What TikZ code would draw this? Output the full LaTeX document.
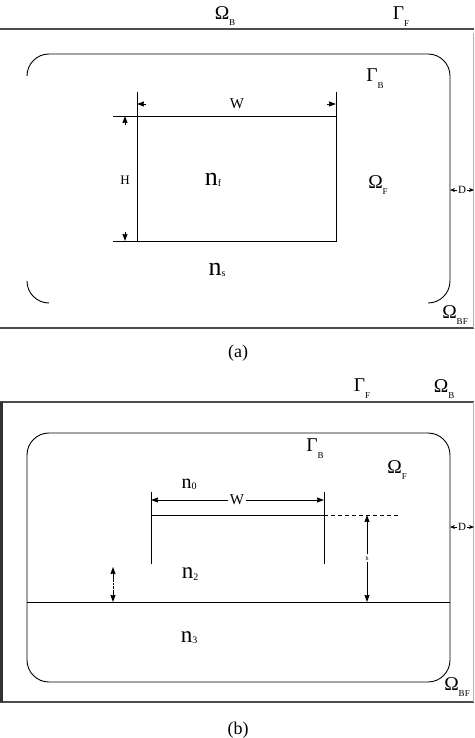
\documentclass[tikz,border=0pt]{standalone}
\usepackage{fontspec}
\setmainfont{Liberation Serif}
\usepackage{tikz}
\usetikzlibrary{arrows.meta}
\newcommand{\lsub}[1]{\raisebox{-0.35em}{\fontsize{9}{9}\selectfont #1}}
\newcommand{\nsub}[1]{\raisebox{-0.05em}{\fontsize{10}{10}\selectfont #1}}

\begin{document}
\begin{tikzpicture}[x=1pt,y=-1pt,>={Stealth[length=7pt,width=5pt,inset=0.5pt]},line width=0.9pt,inner sep=0pt,
    greek/.style={font=\fontsize{19.5}{19.5}\selectfont},
    index/.style={font=\fontsize{26}{26}\selectfont},
    dimlab/.style={font=\fontsize{15}{15}\selectfont,inner sep=1pt},
    tinylab/.style={font=\fontsize{6}{6}\selectfont,inner sep=1pt},
    caption/.style={font=\fontsize{18}{18}\selectfont},
    panel/.style={line width=1.6pt,black!70}]
    \useasboundingbox (0,0) rectangle (474,738);

    % (a) -- fiber in the half space
    \coordinate (at l) at (0,29);   \coordinate (at r) at (474,29);
    \coordinate (ab l) at (0,328);  \coordinate (ab r) at (474,328);
    \draw[panel] (at l) -- (at r);
    \draw[panel] (ab l) -- (ab r);
    \draw[black!30,thin] (473.5,33) -- (473.5,328);
    \draw[rounded corners=22] (27,76) -- (27,54) -- (450,54) -- (450,303) -- (428,303);
    \draw[rounded corners=22] (27,281) -- (27,303) -- (49,303);

    \coordinate (f1) at (137,116); \coordinate (f2) at (336,116);
    \coordinate (f3) at (336,241); \coordinate (f4) at (137,241);
    \draw (113,116) -- (f2) -- (f3) -- (113,241);
    \draw (137,92) -- (f4);
    \draw (f2) -- (336,92);

    \node[dimlab] (Wa) at (237,104) {W};
    \node[dimlab,font=\fontsize{13}{13}\selectfont] (Ha) at (125,180) {H};
    \node[tinylab,font=\fontsize{11}{11}\selectfont] (Da) at (462,190) {D};
    \coordinate (wa1) at (146,104); \coordinate (wa2) at (327,104);
    \coordinate (ha1) at (125,125); \coordinate (ha2) at (125,232);
    \draw[->] (wa1) -- (137,104);
    \draw[->] (wa2) -- (336,104);
    \draw[->] (ha1) -- (125,116);
    \draw[->] (ha2) -- (125,241);
    \draw[->,>={Stealth[length=5pt,width=4pt]}] (Da) -- (450,190);
    \draw[->,>={Stealth[length=5pt,width=4pt]}] (Da) -- (474,190);

    \node[greek] (OmB a) at (225,16) {Ω\lsub{B}};
    \node[greek] (GamF a) at (401,17) {Γ\lsub{F}};
    \node[greek] (GamB a) at (375,79) {Γ\lsub{B}};
    \node[greek] (OmF a) at (378,185) {Ω\lsub{F}};
    \node[greek] (OmBF a) at (455,315) {Ω\lsub{BF}};
    \node[index] (nf) at (213,180) {n\nsub{f}};
    \node[index] (ns) at (217,270) {n\nsub{s}};
    \node[caption] (cap a) at (238,353) {(a)};

    % (b) -- rib on a layered substrate
    \coordinate (bt l) at (0,402);  \coordinate (bt r) at (474,402);
    \coordinate (bb l) at (0,702);  \coordinate (bb r) at (474,702);
    \draw[panel] (bt l) -- (bt r);
    \draw[panel] (bb l) -- (bb r);
    \draw[line width=2.5pt,black!80] (1.25,402) -- (1.25,702);
    \draw[black!30,thin] (473.5,402) -- (473.5,702);
    \draw[rounded corners=22] (27,433) rectangle (450,682);

    \coordinate (r1) at (151,515); \coordinate (r2) at (324,515);
    \draw (151,492) -- (151,564);
    \draw (324,492) -- (324,564);
    \draw (r1) -- (r2);
    \draw[dash pattern=on 4pt off 3pt] (r2) -- (398,515);
    \draw (27,602) -- (450,602);

    \node[dimlab] (Wb) at (237,500) {W};
    \draw[->] (Wb) -- (151,500);
    \draw[->] (Wb) -- (324,500);
    \node[tinylab] (hb) at (367,558) {h};
    \draw[->] (hb) -- (367,515);
    \draw[->] (hb) -- (367,602);
    \coordinate (tb1) at (113,580); \coordinate (tb2) at (113,591);
    \draw[->] (tb1) -- (113,567);
    \draw[->] (tb2) -- (113,602);
    \draw[densely dotted,thin] (tb1) -- (tb2);
    \node[tinylab,font=\fontsize{11}{11}\selectfont] (Db) at (462,527) {D};
    \draw[->,>={Stealth[length=5pt,width=4pt]}] (Db) -- (450,527);
    \draw[->,>={Stealth[length=5pt,width=4pt]}] (Db) -- (474,527);

    \node[greek] (GamF b) at (362,389) {Γ\lsub{F}};
    \node[greek] (OmB b) at (444,389) {Ω\lsub{B}};
    \node[greek] (GamB b) at (315,449) {Γ\lsub{B}};
    \node[greek] (OmF b) at (397,470) {Ω\lsub{F}};
    \node[greek] (OmBF b) at (457,687) {Ω\lsub{BF}};
    \node[index,font=\fontsize{20}{20}\selectfont] (n0) at (189,484) {n\nsub{0}};
    \node[index,font=\fontsize{23}{23}\selectfont] (n2) at (190,574) {n\nsub{2}};
    \node[index,font=\fontsize{23}{23}\selectfont] (n3) at (189,638) {n\nsub{3}};
    \node[caption] (cap b) at (238,730) {(b)};
\end{tikzpicture}
\end{document}
